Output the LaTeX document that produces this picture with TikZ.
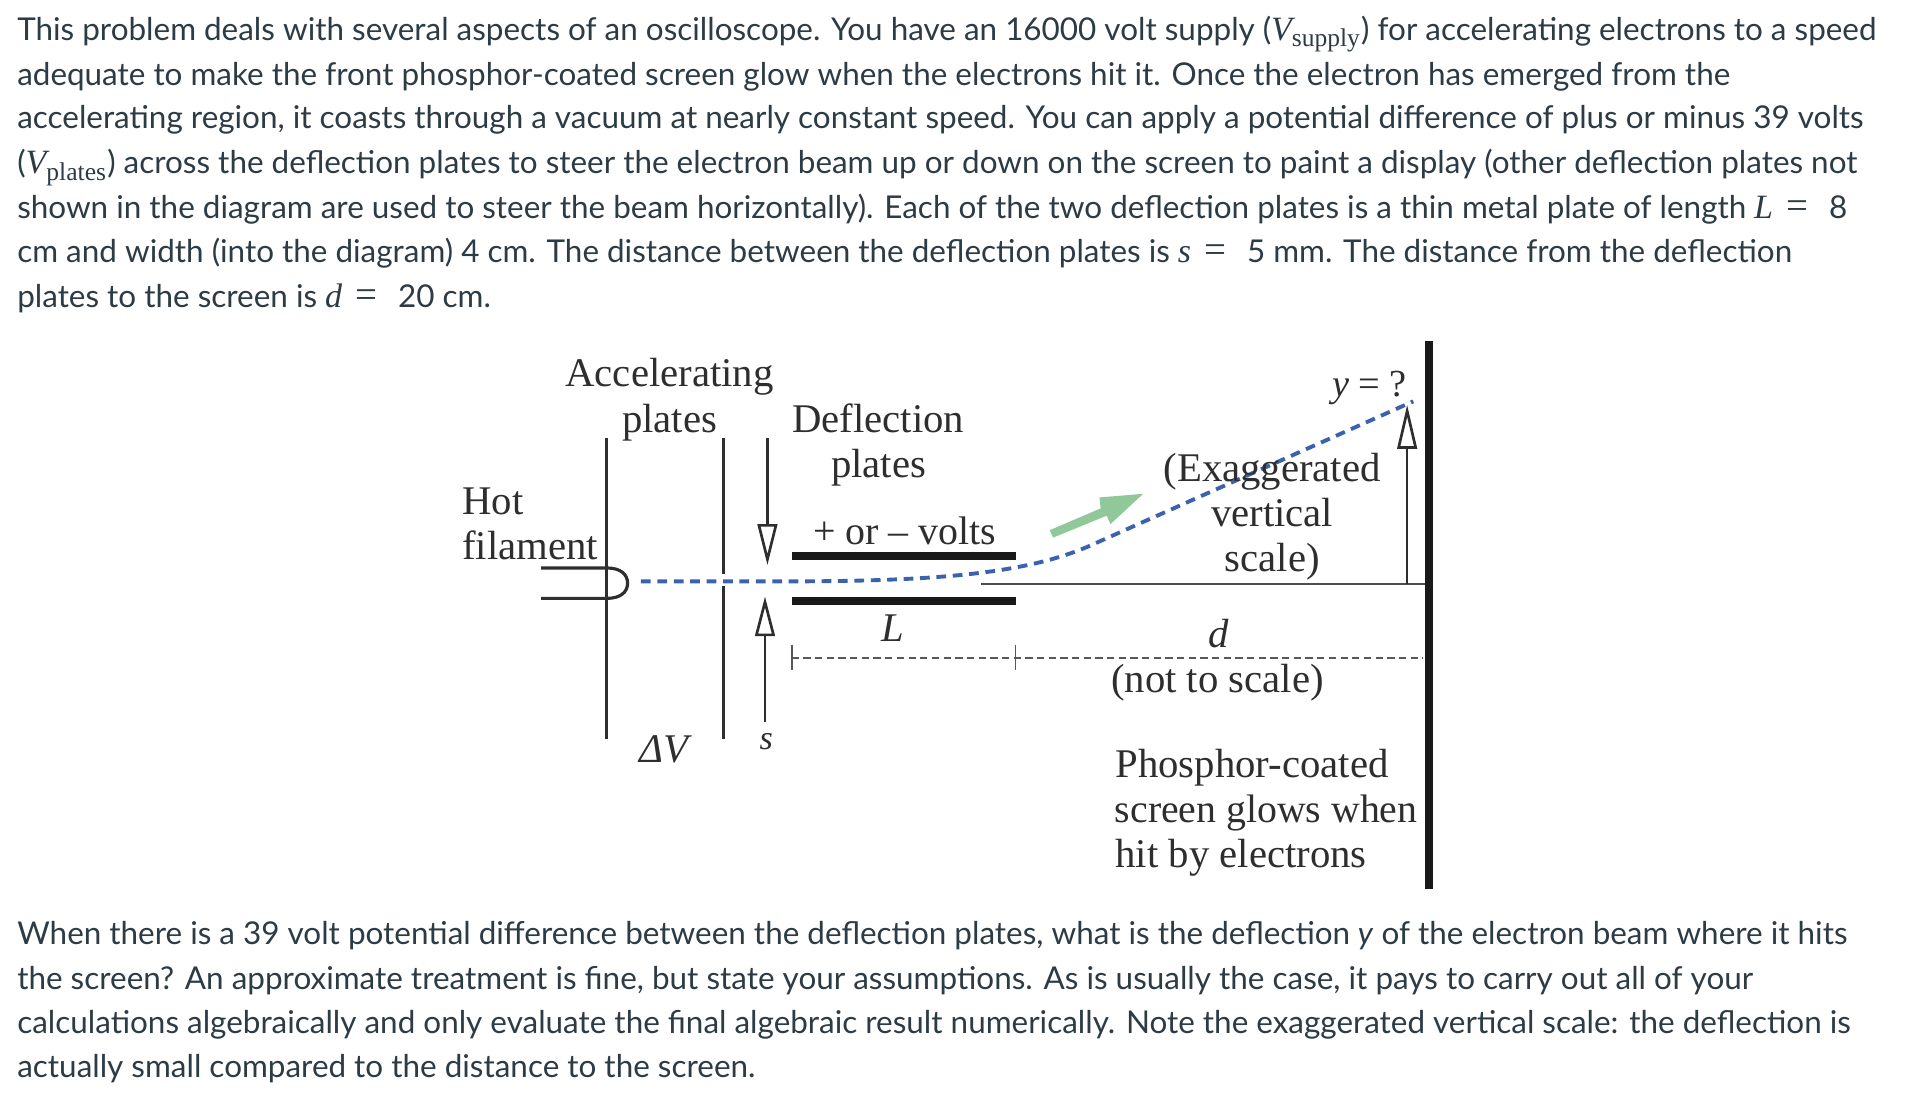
\documentclass[tikz,border=0pt]{standalone}
\usepackage{fontspec}
\setmainfont{Lato}
\newfontfamily\figfont{Liberation Serif}
\definecolor{bodyink}{HTML}{2D3B45}
\definecolor{figink}{HTML}{2E2E2E}
\definecolor{beamblue}{HTML}{3B62AD}
\definecolor{arrowgreen}{HTML}{90C89A}
\newcommand{\mi}[1]{{\figfont\itshape\fontsize{28}{30}\selectfont #1}}
\newcommand{\eqs}{\hspace{11pt}{\figfont\fontsize{32}{30}\selectfont =}\hspace{17pt}}
\newcommand{\subs}[1]{\raisebox{-5pt}{\figfont\fontsize{21}{22}\selectfont #1}}
\tikzset{
  x=1pt,y=-1pt,
  bodyline/.style={anchor=base west,inner sep=0pt,text=bodyink,font=\fontsize{25.85}{30}\selectfont},
  figtext/.style={anchor=base,inner sep=0pt,text=figink,font=\figfont\fontsize{33.5}{37}\selectfont},
  figleft/.style={figtext,anchor=base west},
  figital/.style={figtext,font=\figfont\itshape\fontsize{33.5}{37}\selectfont},
  platev/.style={draw=figink,line width=2.6pt},
  plateh/.style={draw=black!90,line width=6.5pt},
  thinline/.style={draw=figink!85,line width=2pt},
  dimline/.style={draw=figink!80,line width=1.3pt,dash pattern=on 6pt off 3.6pt},
  dimtick/.style={draw=figink!80,line width=1.3pt},
  gaparrow/.style={draw=figink,line width=2.2pt,fill=white,line join=miter},
  beam/.style={draw=beamblue,line width=3.2pt,dash pattern=on 8pt off 5.5pt},
}
\begin{document}
\begin{tikzpicture}
\useasboundingbox (0,0) rectangle (1568,910);
% body text
\node[bodyline] (t1) at (14,33) {This problem deals with several aspects of an oscilloscope. You have an 16000 volt supply (\mi{V}\subs{supply}\hspace{1pt}) for accelerating electrons to a speed};
\node[bodyline] (t2) at (14,70) {adequate to make the front phosphor-coated screen glow when the electrons hit it. Once the electron has emerged from the};
\node[bodyline] (t3) at (14,106) {accelerating region, it coasts through a vacuum at nearly constant speed. You can apply a potential difference of plus or minus 39 volts};
\node[bodyline] (t4) at (14,143) {(\mi{V}\subs{plates}\hspace{1pt}) across the deflection plates to steer the electron beam up or down on the screen to paint a display (other deflection plates not};
\node[bodyline] (t5) at (14,180) {shown in the diagram are used to steer the beam horizontally). Each of the two deflection plates is a thin metal plate of length \mi{L}\eqs 8};
\node[bodyline] (t6) at (14,216) {cm and width (into the diagram) 4 cm. The distance between the deflection plates is \mi{s}\eqs 5 mm. The distance from the deflection};
\node[bodyline] (t7) at (14,253) {plates to the screen is \mi{d}\eqs 20 cm.};
\node[bodyline] (t8) at (14,777) {When there is a 39 volt potential difference between the deflection plates, what is the deflection \textit{y} of the electron beam where it hits};
\node[bodyline] (t9) at (14,814) {the screen? An approximate treatment is fine, but state your assumptions. As is usually the case, it pays to carry out all of your};
\node[bodyline] (t10) at (14,850) {calculations algebraically and only evaluate the final algebraic result numerically. Note the exaggerated vertical scale: the deflection is};
\node[bodyline] (t11) at (14,886) {actually small compared to the distance to the screen.};
% geometry anchors
\coordinate (p1t) at (499,360); \coordinate (p1b) at (499,608);
\coordinate (p2t) at (595,360); \coordinate (p2g1) at (595,472);
\coordinate (p2g2) at (595,482); \coordinate (p2b) at (595,608);
\coordinate (fa) at (445,467); \coordinate (fb) at (445,492);
\coordinate (fc) at (499,467); \coordinate (fd) at (499,492);
\coordinate (dtl) at (651,457); \coordinate (dtr) at (835,457);
\coordinate (dbl) at (651,494); \coordinate (dbr) at (835,494);
\coordinate (s1t) at (631,360); \coordinate (s1tip) at (631,460);
\coordinate (s2b) at (629,594); \coordinate (s2tip) at (629,495);
\coordinate (axl) at (807,480); \coordinate (axr) at (1172,480);
\coordinate (yb) at (1157,480); \coordinate (ytip) at (1157,338);
\coordinate (scrt) at (1175,280); \coordinate (scrb) at (1175,731);
\coordinate (dim0) at (651,541); \coordinate (dim1) at (835,541); \coordinate (dim2) at (1170,541);
\coordinate (bs) at (527,478); \coordinate (bm) at (900,447); \coordinate (be) at (1162,330);
% accelerating plates
\draw[platev] (p1t) -- (p1b);
\draw[platev] (p2t) -- (p2g1);
\draw[platev] (p2g2) -- (p2b);
% filament
\draw[draw=figink,line width=2.6pt] (fa) -- (fc) .. controls (510,467) and (516,472) .. (516,479.5) .. controls (516,487) and (510,492) .. (fd) -- (fb);
% deflection plates
\draw[plateh] (dtl) -- (dtr);
\draw[plateh] (dbl) -- (dbr);
% s arrows
\draw[platev,line width=2pt] (s1t) -- (631,432);
\draw[gaparrow] (624,432) -- (638,432) -- (s1tip) -- cycle;
\draw[platev,line width=2pt] (s2b) -- (629,522);
\draw[gaparrow] (622,522) -- (636,522) -- (s2tip) -- cycle;
% axis and y arrow
\draw[thinline] (axl) -- (axr);
\draw[platev,line width=2pt] (yb) -- (1157,368);
\draw[gaparrow] (1150,368) -- (1164,368) -- (ytip) -- cycle;
% dimension line
\draw[dimline] (dim0) -- (dim1) -- (dim2);
\draw[dimtick] (651,530) -- (651,551);
\draw[dimtick] (835,530) -- (835,551);
% screen
\draw[draw=black!90,line width=6.5pt] (scrt) -- (scrb);
% beam
\draw[beam] (bs) -- (650,478) .. controls (780,478) and (850,470) .. (bm) -- (be);
% green arrow
\fill[arrowgreen] (863,436) -- (905,418) -- (904,409) -- (940,406) -- (913,431) -- (910,424) -- (866,442) -- cycle;
% figure text
\node[figtext] (acc) at (550.5,318) {Accelerating};
\node[figtext] (accp) at (550.5,356) {plates};
\node[figtext] (def) at (722,356) {Deflection};
\node[figtext] (defp) at (722.5,393) {plates};
\node[figleft] (hot) at (380,423) {Hot};
\node[figleft] (fil) at (380,460) {filament};
\node[figtext,font=\figfont\fontsize{32.8}{37}\selectfont] (volts) at (744,447.5) {+ or – volts};
\node[figital] (lbl) at (734,527.5) {L};
\node[figital,font=\figfont\itshape\fontsize{28}{37}\selectfont] (slb) at (630,616) {s};
\node[figital] (dv) at (546,627) {ΔV};
\node[figital] (dlb) at (1002,532) {d};
\node[figtext,font=\figfont\fontsize{31.5}{37}\selectfont] (yq) at (1126,326) {\textit{y} = ?};
\node[figtext] (ex1) at (1046,395.5) {(Exaggerated};
\node[figtext] (ex2) at (1046,432.5) {vertical};
\node[figtext] (ex3) at (1046,469.5) {scale)};
\node[figtext] (nts) at (1001,569.5) {(not to scale)};
\node[figleft] (ph1) at (917,639) {Phosphor-coated};
\node[figleft,font=\figfont\fontsize{32.7}{37}\selectfont] (ph2) at (916.5,676) {screen glows when};
\node[figleft] (ph3) at (917,713) {hit by electrons};
\end{tikzpicture}
\end{document}
